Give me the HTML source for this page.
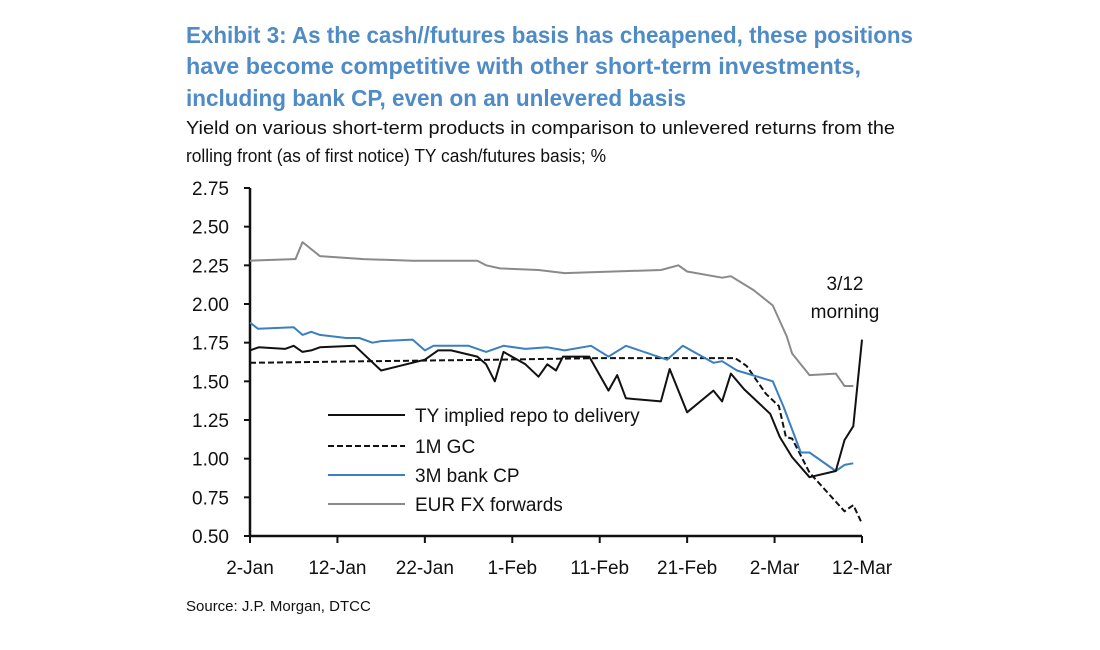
<!DOCTYPE html>
<html><head><meta charset="utf-8"><style>
html,body{margin:0;padding:0;background:#fff;}
svg{display:block;font-family:"Liberation Sans",Arial,sans-serif;}
</style></head><body>
<svg id="chart" width="1100" height="650" viewBox="0 0 1100 650">
<g fill="#4f8bc6" font-weight="bold" font-size="23">
<text x="186" y="43" textLength="727" lengthAdjust="spacingAndGlyphs">Exhibit 3: As the cash//futures basis has cheapened, these positions</text>
<text x="186" y="74" textLength="675" lengthAdjust="spacingAndGlyphs">have become competitive with other short-term investments,</text>
<text x="186" y="106" textLength="500" lengthAdjust="spacingAndGlyphs">including bank CP, even on an unlevered basis</text>
</g>
<g fill="#111" font-size="18">
<text x="186" y="134" textLength="709" lengthAdjust="spacingAndGlyphs">Yield on various short-term products in comparison to unlevered returns from the</text>
<text x="186" y="162" textLength="420" lengthAdjust="spacingAndGlyphs">rolling front (as of first notice) TY cash/futures basis; %</text>
</g>
<g id="axes"></g>
<g id="series"></g>
<g font-size="19" fill="#111">
<line x1="328" y1="415" x2="405" y2="415" stroke="#111" stroke-width="2"/>
<text x="415" y="422">TY implied repo to delivery</text>
<line x1="328" y1="446" x2="405" y2="446" stroke="#111" stroke-width="2" stroke-dasharray="6,3"/>
<text x="415" y="453">1M GC</text>
<line x1="328" y1="475" x2="405" y2="475" stroke="#3a7fc1" stroke-width="2"/>
<text x="415" y="482">3M bank CP</text>
<line x1="328" y1="504" x2="405" y2="504" stroke="#8a8a8a" stroke-width="2"/>
<text x="415" y="511">EUR FX forwards</text>
</g>
<g font-size="19" fill="#111" text-anchor="middle">
<text x="845" y="290">3/12</text>
<text x="845" y="318">morning</text>
</g>
<text x="186" y="611" font-size="15" fill="#111">Source: J.P. Morgan, DTCC</text>
</svg>
<script>
const yTicks = [0.50,0.75,1.00,1.25,1.50,1.75,2.00,2.25,2.50,2.75];
const xTickDays = [0,10,20,30,40,50,60,70];
const xTickLabels = ["2-Jan","12-Jan","22-Jan","1-Feb","11-Feb","21-Feb","2-Mar","12-Mar"];
const tyDays = [0,1,4,5,6,7,8,12,15,20,21.5,23,26,27,28,29,31.5,33,34,35,35.8,38.8,41,42,43,47,48,50,53,54,55,56.5,59.5,60.6,62,64,67,68,69,70];
const tyVals = [1.70,1.72,1.71,1.73,1.69,1.70,1.72,1.73,1.57,1.64,1.70,1.70,1.66,1.61,1.50,1.69,1.61,1.53,1.61,1.57,1.66,1.66,1.44,1.54,1.39,1.37,1.58,1.30,1.44,1.37,1.55,1.45,1.29,1.14,1.01,0.88,0.92,1.12,1.21,1.77];
const gcDays = [0,14,28,40,55.5,56.8,59,60.5,61.3,62,64,68,69,70];
const gcVals = [1.62,1.63,1.64,1.65,1.65,1.60,1.42,1.34,1.14,1.13,0.91,0.66,0.70,0.58];
const cpDays = [0,0.9,5,6,7,8,11,12.5,14,15,18.6,20,21,25,27,29,31.5,34,36,39,41,43,47.7,49.5,53,54,55.7,59.8,61,63,64,67,68,69];
const cpVals = [1.88,1.84,1.85,1.80,1.82,1.80,1.78,1.78,1.75,1.76,1.77,1.70,1.73,1.73,1.69,1.73,1.71,1.72,1.70,1.73,1.66,1.73,1.64,1.73,1.62,1.63,1.57,1.50,1.34,1.04,1.04,0.92,0.96,0.97];
const eurDays = [0,5,5.2,6,8,13,18.6,26,27,28.6,33,36,47,49,50,54,55,57.6,59.8,61.4,62,64,67,68,69];
const eurVals = [2.28,2.29,2.29,2.40,2.31,2.29,2.28,2.28,2.25,2.23,2.22,2.20,2.22,2.25,2.21,2.17,2.18,2.09,1.99,1.79,1.68,1.54,1.55,1.47,1.47];

const NS="http://www.w3.org/2000/svg";
const X0=250, X1=862, D0=0, D1=70, Y0=536, Y1=188, V0=0.5, V1=2.75;
function xs(d){return X0+(d-D0)/(D1-D0)*(X1-X0);}
function ys(v){return Y0-(v-V0)/(V1-V0)*(Y0-Y1);}
function mk(tag,attrs,parent){const e=document.createElementNS(NS,tag);for(const k in attrs)e.setAttribute(k,attrs[k]);parent.appendChild(e);return e;}
const axes=document.getElementById('axes');
const ya=mk('line',{x1:X0,y1:Y1,x2:X0,y2:Y0,stroke:'#111','stroke-width':2.5},axes);


const xa=mk('line',{x1:X0,y1:Y0,x2:X1,y2:Y0,stroke:'#111','stroke-width':2.5},axes);


yTicks.forEach(v=>{
  mk('line',{x1:X0-6,y1:ys(v),x2:X0,y2:ys(v),stroke:'#111','stroke-width':2},axes);
  const t=mk('text',{x:229,y:ys(v)+7,'text-anchor':'end','font-size':19,fill:'#111'},axes);
  t.textContent=v.toFixed(2);
  
  
});
xTickDays.forEach((d,i)=>{
  mk('line',{x1:xs(d),y1:Y0,x2:xs(d),y2:Y0+7,stroke:'#111','stroke-width':2},axes);
  const t=mk('text',{x:xs(d),y:574,'text-anchor':'middle','font-size':19,fill:'#111'},axes);
  t.textContent=xTickLabels[i];
  
  
});
const ser=document.getElementById('series');
function line(days,vals,stroke,dash,name){
  const pts=days.map((d,i)=>xs(d).toFixed(1)+','+ys(vals[i]).toFixed(1)).join(' ');
  const a={points:pts,fill:'none',stroke:stroke,'stroke-width':2,'stroke-linejoin':'round'};
  if(dash)a['stroke-dasharray']=dash;
  const p=mk('polyline',a,ser);
  
  
}
line(eurDays,eurVals,'#8a8a8a',null,'eur-fx-forwards-line');
line(gcDays,gcVals,'#111','6,3','1m-gc-line');
line(cpDays,cpVals,'#3a7fc1',null,'3m-bank-cp-line');
line(tyDays,tyVals,'#111',null,'ty-implied-repo-line');
</script>
</body></html>
